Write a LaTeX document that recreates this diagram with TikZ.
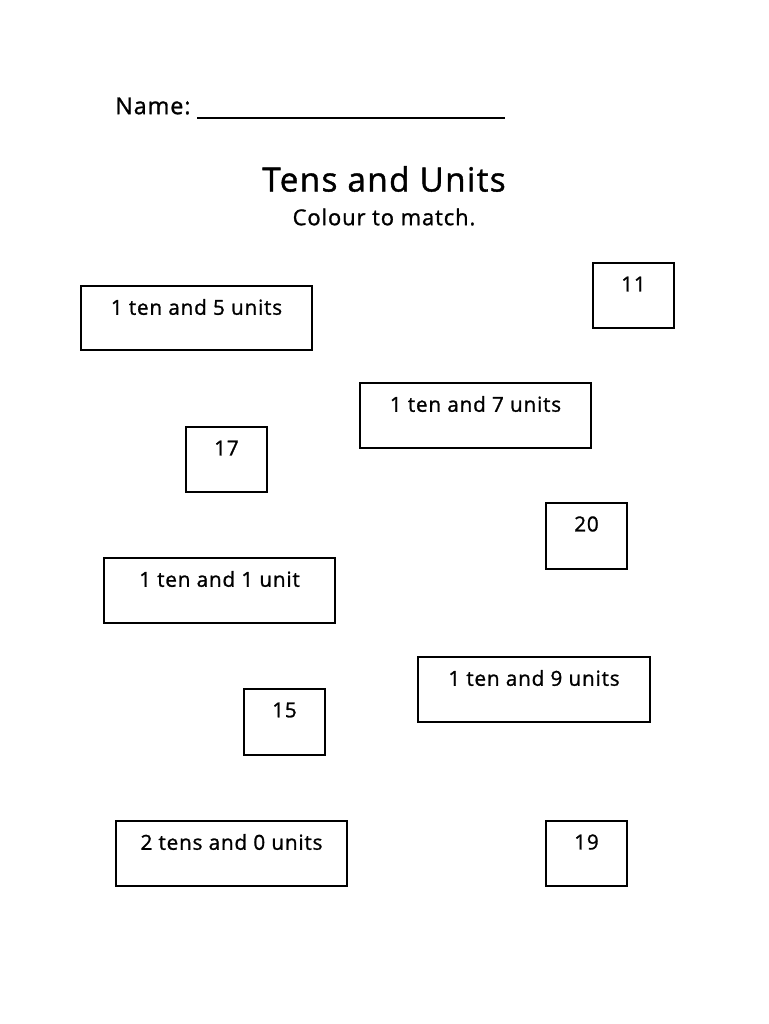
\documentclass[tikz,border=0pt]{standalone}
\usepackage{fontspec}
\setmainfont{Open Sans}[LetterSpace=4,FakeBold=1.2]
\begin{document}
\begin{tikzpicture}[x=0.75pt,y=-0.75pt,
  lbl/.style={font=\fontsize{15.5}{17}\selectfont,inner sep=0pt}]
\useasboundingbox (0,0) rectangle (768,1024);
\node[font=\fontsize{17.5}{20}\selectfont,anchor=west,inner sep=0pt] (name) at (115,106) {Name:};
\coordinate (l1) at (197,118); \coordinate (l2) at (505,118);
\draw[line width=1.3pt] (l1) -- (l2);
\node[font=\fontsize{25}{28}\selectfont,inner sep=0pt] (title) at (384,179) {Tens and Units};
\node[font=\fontsize{16.5}{19}\selectfont,inner sep=0pt] (sub) at (384,217) {Colour to match.};
\foreach \n/\a/\b/\c/\d/\t in {
 a/81/286/312/350/{1 ten and 5 units},
 b/593/263/674/328/{11},
 c/360/383/591/448/{1 ten and 7 units},
 d/186/427/267/492/{17},
 e/546/503/627/569/{20},
 f/104/558/335/623/{1 ten and 1 unit},
 g/418/657/650/722/{1 ten and 9 units},
 h/244/689/325/755/{15},
 i/116/821/347/886/{2 tens and 0 units},
 j/546/821/627/886/{19}}{
  \draw[line width=0.8pt] (\a,\b) rectangle (\c,\d);
  \node[lbl] (\n) at ({(\a+\c)/2},\b+21) {\t};
}
\end{tikzpicture}
\end{document}
